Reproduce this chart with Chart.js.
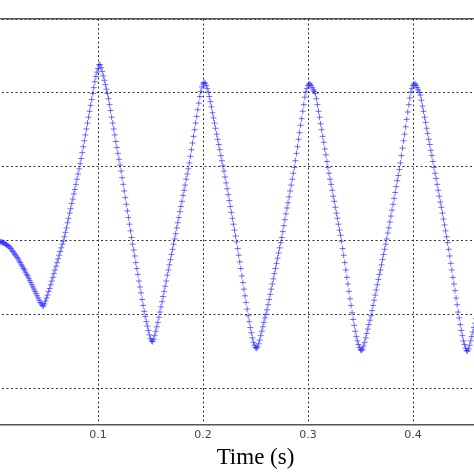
<!DOCTYPE html>
<html>
<head>
<meta charset="utf-8">
<script src="https://cdn.jsdelivr.net/npm/chart.js@4.4.0/dist/chart.umd.min.js"></script>
<style>
  html, body { margin: 0; padding: 0; background: #fff; overflow: hidden; }
  #wrap { position: absolute; left: -12px; top: 0; width: 535px; height: 474px; }
</style>
</head>
<body>
<div id="wrap"><canvas id="myChart"></canvas></div>
<script>
// sampling step of the signal (s)
var sampleStep = 0.001;

// signal values, one per sample (grid step = 1 unit)
var signal = [
  0.00, 0.00, 0.00, 0.00, -0.01, -0.01, -0.01, -0.02, -0.02, -0.03,
  -0.03, -0.04, -0.05, -0.06, -0.07, -0.08, -0.09, -0.11, -0.13, -0.15,
  -0.17, -0.19, -0.21, -0.23, -0.25, -0.28, -0.30, -0.33, -0.35, -0.38,
  -0.40, -0.43, -0.46, -0.48, -0.51, -0.54, -0.57, -0.60, -0.63, -0.66,
  -0.69, -0.72, -0.75, -0.78, -0.81, -0.84, -0.86, -0.88, -0.89, -0.86,
  -0.82, -0.78, -0.74, -0.69, -0.65, -0.60, -0.55, -0.50, -0.45, -0.40,
  -0.35, -0.30, -0.25, -0.20, -0.15, -0.10, -0.05, -0.01, 0.05, 0.11,
  0.17, 0.24, 0.30, 0.37, 0.43, 0.50, 0.56, 0.63, 0.69, 0.76,
  0.83, 0.90, 0.97, 1.04, 1.11, 1.19, 1.27, 1.35, 1.43, 1.51,
  1.59, 1.67, 1.75, 1.83, 1.91, 1.99, 2.07, 2.15, 2.22, 2.28,
  2.33, 2.38, 2.38, 2.34, 2.29, 2.23, 2.17, 2.11, 2.05, 1.99,
  1.92, 1.84, 1.76, 1.67, 1.59, 1.51, 1.43, 1.34, 1.26, 1.18,
  1.10, 1.02, 0.94, 0.85, 0.76, 0.67, 0.58, 0.49, 0.40, 0.31,
  0.22, 0.13, 0.04, -0.05, -0.13, -0.21, -0.30, -0.38, -0.46, -0.55,
  -0.63, -0.71, -0.80, -0.88, -0.96, -1.03, -1.10, -1.16, -1.22, -1.28,
  -1.33, -1.36, -1.37, -1.34, -1.29, -1.23, -1.17, -1.11, -1.04, -0.97,
  -0.90, -0.83, -0.76, -0.69, -0.62, -0.55, -0.47, -0.40, -0.33, -0.26,
  -0.19, -0.12, -0.05, 0.02, 0.09, 0.17, 0.24, 0.31, 0.39, 0.46,
  0.53, 0.61, 0.68, 0.75, 0.83, 0.90, 0.97, 1.05, 1.14, 1.23,
  1.32, 1.41, 1.50, 1.59, 1.68, 1.77, 1.86, 1.95, 2.02, 2.08,
  2.12, 2.14, 2.13, 2.10, 2.06, 2.01, 1.95, 1.88, 1.81, 1.73,
  1.66, 1.59, 1.52, 1.44, 1.37, 1.30, 1.23, 1.15, 1.08, 1.01,
  0.94, 0.86, 0.78, 0.70, 0.62, 0.54, 0.46, 0.38, 0.30, 0.22,
  0.14, 0.06, -0.02, -0.11, -0.20, -0.29, -0.38, -0.48, -0.57, -0.66,
  -0.75, -0.84, -0.93, -1.02, -1.10, -1.18, -1.25, -1.32, -1.38, -1.42,
  -1.45, -1.46, -1.44, -1.40, -1.35, -1.29, -1.23, -1.17, -1.11, -1.05,
  -1.00, -0.94, -0.87, -0.80, -0.73, -0.66, -0.59, -0.52, -0.45, -0.38,
  -0.31, -0.24, -0.17, -0.10, -0.03, 0.04, 0.12, 0.20, 0.28, 0.36,
  0.44, 0.51, 0.59, 0.67, 0.75, 0.83, 0.91, 0.99, 1.08, 1.18,
  1.27, 1.37, 1.46, 1.56, 1.65, 1.75, 1.84, 1.94, 2.01, 2.06,
  2.10, 2.12, 2.12, 2.10, 2.07, 2.04, 2.02, 1.99, 1.92, 1.84,
  1.75, 1.67, 1.58, 1.50, 1.41, 1.33, 1.24, 1.16, 1.07, 0.99,
  0.91, 0.83, 0.76, 0.68, 0.60, 0.53, 0.45, 0.37, 0.30, 0.22,
  0.14, 0.07, -0.01, -0.11, -0.20, -0.30, -0.40, -0.50, -0.59, -0.69,
  -0.79, -0.88, -0.98, -1.07, -1.15, -1.23, -1.30, -1.36, -1.41, -1.45,
  -1.48, -1.49, -1.47, -1.43, -1.38, -1.32, -1.26, -1.20, -1.14, -1.08,
  -1.02, -0.95, -0.88, -0.81, -0.74, -0.67, -0.60, -0.53, -0.46, -0.40,
  -0.33, -0.26, -0.19, -0.12, -0.05, 0.02, 0.10, 0.17, 0.25, 0.33,
  0.41, 0.49, 0.57, 0.65, 0.73, 0.81, 0.88, 0.96, 1.05, 1.15,
  1.25, 1.35, 1.44, 1.54, 1.64, 1.74, 1.84, 1.93, 2.01, 2.06,
  2.10, 2.12, 2.12, 2.10, 2.07, 2.04, 2.01, 1.97, 1.90, 1.82,
  1.75, 1.67, 1.60, 1.52, 1.45, 1.37, 1.30, 1.22, 1.15, 1.07,
  0.99, 0.91, 0.84, 0.76, 0.68, 0.60, 0.52, 0.45, 0.37, 0.29,
  0.21, 0.13, 0.05, -0.03, -0.12, -0.21, -0.31, -0.40, -0.50, -0.59,
  -0.68, -0.78, -0.87, -0.97, -1.05, -1.14, -1.22, -1.29, -1.36, -1.41,
  -1.46, -1.49, -1.50, -1.47, -1.42, -1.36, -1.30, -1.24, -1.18, -1.12,
  -1.06
];

// tick positions
var xTickValues = [0.0, 0.1, 0.2, 0.3, 0.4, 0.5];
var yGridValues = [-2, -1, 0, 1, 2, 3];
var xLabel = 'Time (s)';

var points = signal.map((v, i) => ({ x: i * sampleStep, y: v }));

var ctx = document.getElementById('myChart').getContext('2d');
var chart = new Chart(ctx, {
  type: 'scatter',
  data: {
    datasets: [{
      data: points,
      pointStyle: 'cross',
      pointRadius: 3,
      borderWidth: 1,
      borderColor: 'rgba(35, 35, 255, 0.65)',
      backgroundColor: 'rgba(35, 35, 255, 0.65)',
      showLine: false
    }]
  },
  options: {
    animation: false,
    responsive: true,
    maintainAspectRatio: false,
    layout: { padding: { top: 19, left: 0, right: 0, bottom: 0 } },
    plugins: { legend: { display: false }, tooltip: { enabled: false } },
    scales: {
      x: {
        type: 'linear',
        position: 'bottom',
        min: 0,
        max: 0.5,
        afterBuildTicks: s => { s.ticks = xTickValues.map(v => ({ value: v })); },
        afterFit: s => { s.height = 49; },
        grid: { color: '#333', lineWidth: 1, drawTicks: false },
        border: { color: '#555', width: 1.5, dash: [2, 2.5] },
        ticks: {
          padding: 4,
          color: '#444',
          font: { family: 'DejaVu Sans', size: 11 },
          // end labels would push the plot area inwards
          callback: v => (v > 0.05 && v < 0.45) ? v.toFixed(1) : ''
        },
        title: {
          display: true,
          text: xLabel,
          color: '#000',
          font: { family: 'Liberation Serif', size: 23 },
          padding: { top: 0, bottom: 2 }
        }
      },
      xTop: {
        type: 'linear',
        position: 'top',
        min: 0,
        max: 0.5,
        afterFit: s => { s.height = 0; },
        grid: { display: false, drawTicks: false },
        ticks: { display: false },
        border: { color: '#555', width: 1.5 }
      },
      y: {
        min: -2.5,
        max: 3,
        afterBuildTicks: s => { s.ticks = yGridValues.map(v => ({ value: v })); },
        afterFit: s => { s.width = 0; },
        grid: { color: '#333', lineWidth: 1, drawTicks: false },
        border: { display: false, dash: [2, 2.5] },
        ticks: { display: false }
      }
    }
  }
});
</script>
</body>
</html>
